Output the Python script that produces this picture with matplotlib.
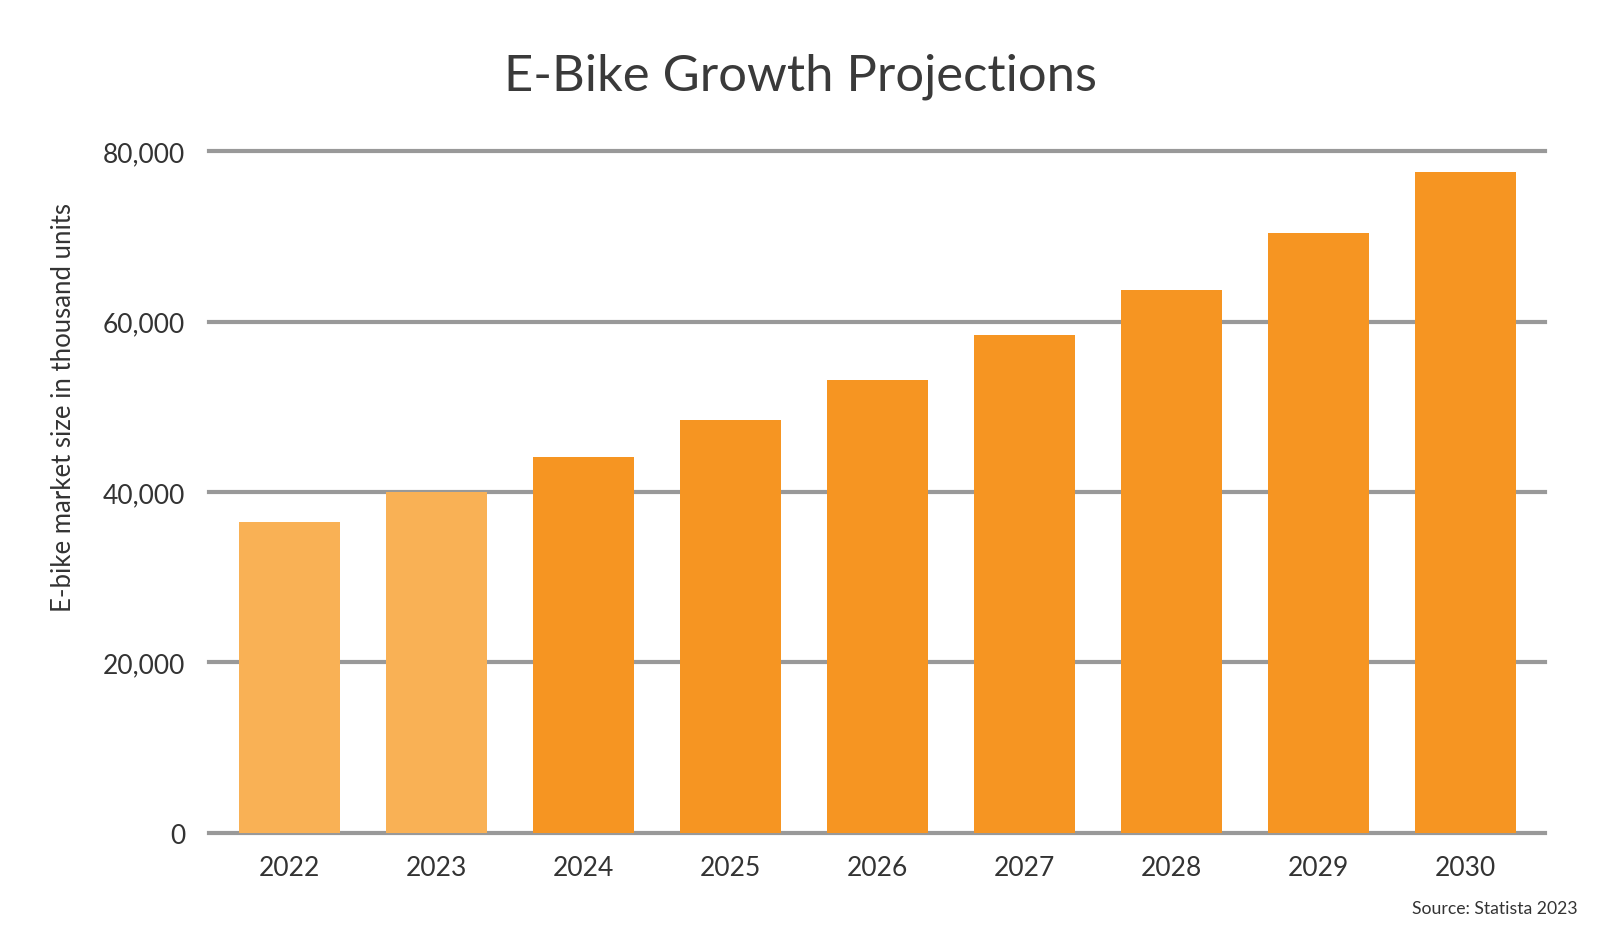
import matplotlib
matplotlib.use('Agg')
import matplotlib.pyplot as plt
from matplotlib.ticker import FuncFormatter

plt.rcParams['font.family'] = ['Lato', 'DejaVu Sans']

years = ['2022', '2023', '2024', '2025', '2026', '2027', '2028', '2029', '2030']
market_size = [36500, 40000, 44100, 48500, 53100, 58450, 63700, 70400, 77550]
light_years = ['2022', '2023']
yticks = [0, 20000, 40000, 60000, 80000]

light = '#F9B155'
dark = '#F69522'
grid_col = '#999999'
txt = '#333333'

fig = plt.figure(figsize=(16, 9.28), dpi=100)
ax = fig.add_axes([0.1306, 0.1013, 0.835, 0.7349])

colors = [light if y in light_years else dark for y in years]
x = range(len(years))

for v in yticks:
    ax.axhline(v, color=grid_col, lw=3, zorder=1, clip_on=False)
ax.bar(x, market_size, width=0.687, color=colors, zorder=2)

ax.set_xlim(-0.548, len(years) - 1 + 0.54)
ax.set_ylim(0, 80000)
ax.set_xticks(list(x))
ax.set_xticklabels(years)
ax.set_yticks(yticks)
ax.yaxis.set_major_formatter(FuncFormatter(lambda v, p: f'{int(v):,}'))
ax.tick_params(axis='both', length=0, labelsize=19, labelcolor=txt)
ax.tick_params(axis='x', pad=16)
ax.tick_params(axis='y', pad=17)
for s in ax.spines.values():
    s.set_visible(False)

fig.text(0.04, 1 - 408 / 928, 'E-bike market size in thousand units', rotation=90,
         ha='center', va='center', fontsize=18.5, color=txt)
fig.text(0.5, 0.917, 'E-Bike Growth Projections', ha='center', va='center',
         fontsize=36.5, color='#3a3a3a')
fig.text(0.986, 0.021, 'Source: Statista 2023', ha='right', va='center',
         fontsize=12.7, color=txt)

fig.savefig('out.png', dpi=100, facecolor='white')
